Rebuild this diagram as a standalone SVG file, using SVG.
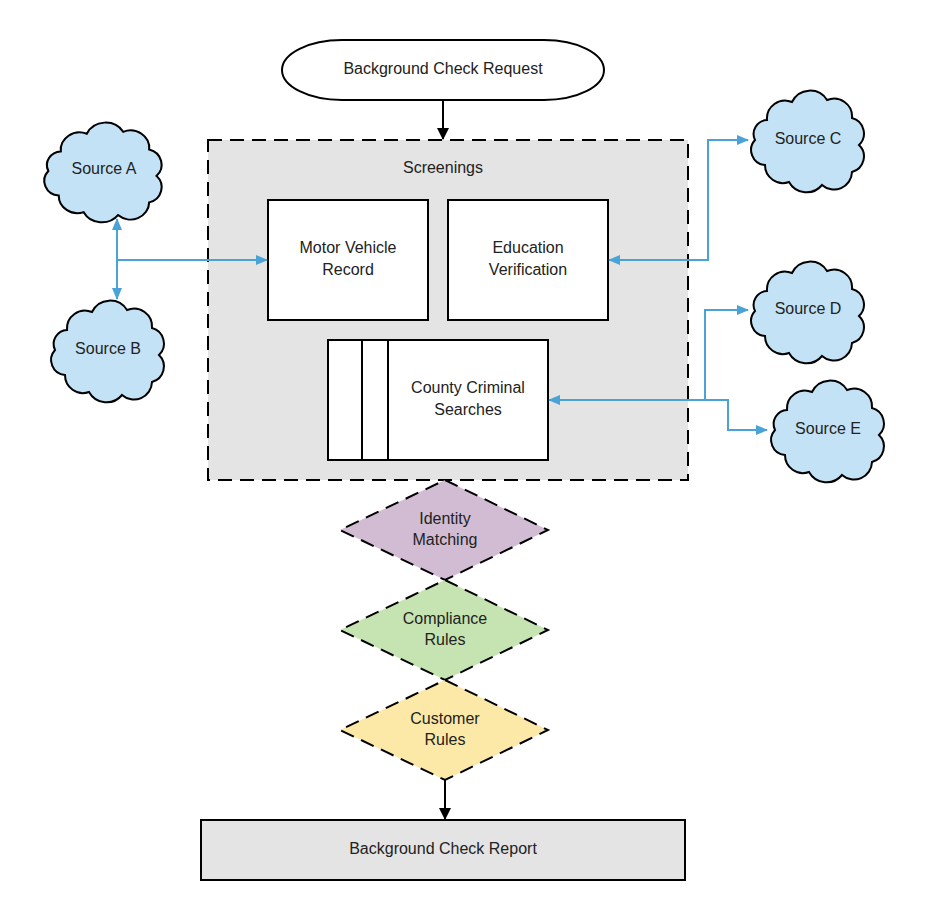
<svg xmlns="http://www.w3.org/2000/svg" xmlns:xlink="http://www.w3.org/1999/xlink" width="934" height="920" viewBox="0 0 934 920">
<style>
text{font-family:"Liberation Sans",Arial,sans-serif;font-size:16px;fill:#222;text-anchor:middle;dominant-baseline:central}
.box{fill:#fff;stroke:#000;stroke-width:2}
.cloud{fill:#c3e2f5;stroke:#000;stroke-width:2}
.dia{stroke:#000;stroke-width:2;stroke-dasharray:14 8}
.blue{fill:none;stroke:#4aa3d6;stroke-width:2}
.blk{fill:none;stroke:#000;stroke-width:2}
</style>
<defs>
<path id="cl" d="M20,30 A18,18 0 0 1 45,12 A20,20 0 0 1 80,10 A18,18 0 0 1 105,28 A16,16 0 0 1 112,55 A16,16 0 0 1 105,82 A18,18 0 0 1 75,95 A20,20 0 0 1 42,92 A18,18 0 0 1 18,75 A15,15 0 0 1 8,50 A14,14 0 0 1 20,30 Z"/>
<marker id="ab" markerWidth="12" markerHeight="10" refX="11" refY="5" orient="auto-start-reverse" markerUnits="userSpaceOnUse"><path d="M0,0 L12,5 L0,10 Z" fill="#4aa3d6"/></marker>
<marker id="ak" markerWidth="12" markerHeight="12" refX="11" refY="6" orient="auto" markerUnits="userSpaceOnUse"><path d="M0,0 L12,6 L0,12 Z" fill="#000"/></marker>
</defs>
<g id="screenings"><rect x="208" y="140" width="480" height="340" fill="#e4e4e4" stroke="#000" stroke-width="2" stroke-dasharray="14 8"/><text x="443" y="167">Screenings</text></g>
<g id="request"><rect x="282" y="40" width="322" height="60" rx="60" ry="30" class="box"/><text x="443" y="68">Background Check Request</text></g>
<g id="mvr"><rect x="268" y="200" width="160" height="120" class="box"/><text x="348" y="247">Motor Vehicle</text><text x="348" y="269">Record</text></g>
<g id="edu"><rect x="448" y="200" width="160" height="120" class="box"/><text x="528" y="247">Education</text><text x="528" y="269">Verification</text></g>
<g id="county"><rect x="328" y="340" width="220" height="120" class="box"/><line x1="362" y1="340" x2="362" y2="460" class="blk"/><line x1="388" y1="340" x2="388" y2="460" class="blk"/><text x="468" y="387">County Criminal</text><text x="468" y="409">Searches</text></g>
<g id="srcA"><use xlink:href="#cl" class="cloud" transform="translate(40,122) scale(1.04,0.98)"/><text x="104" y="168">Source A</text></g>
<g id="srcB"><use xlink:href="#cl" class="cloud" transform="translate(47,300) scale(1.0,1.0)"/><text x="108" y="348">Source B</text></g>
<g id="srcC"><use xlink:href="#cl" class="cloud" transform="translate(747,90) scale(1.0,1.0)"/><text x="808" y="138">Source C</text></g>
<g id="srcD"><use xlink:href="#cl" class="cloud" transform="translate(747,261) scale(1.0,1.0)"/><text x="808" y="308">Source D</text></g>
<g id="srcE"><use xlink:href="#cl" class="cloud" transform="translate(767,380) scale(1.0,1.0)"/><text x="828" y="428">Source E</text></g>
<g id="identity"><polygon points="445,480 548,530 445,580 340,530" fill="#d1bcd3" class="dia"/><text x="445" y="518">Identity</text><text x="445" y="539">Matching</text></g>
<g id="compliance"><polygon points="445,580 548,630 445,680 340,630" fill="#c6e4b1" class="dia"/><text x="445" y="618">Compliance</text><text x="445" y="639">Rules</text></g>
<g id="customer"><polygon points="445,680 548,730 445,780 340,730" fill="#fce9a7" class="dia"/><text x="445" y="718">Customer</text><text x="445" y="739">Rules</text></g>
<g id="report"><rect x="201" y="820" width="484" height="60" fill="#e4e4e4" stroke="#000" stroke-width="2"/><text x="443" y="848">Background Check Report</text></g>
<g id="connectors">
<line x1="443" y1="100" x2="443" y2="139" class="blk" marker-end="url(#ak)"/>
<line x1="445" y1="780" x2="445" y2="819" class="blk" marker-end="url(#ak)"/>
<line x1="117" y1="219" x2="117" y2="299" class="blue" marker-start="url(#ab)" marker-end="url(#ab)"/>
<polyline points="117,260 267,260" class="blue" marker-end="url(#ab)"/>
<polyline points="748,140 708,140 708,260 609,260" class="blue" marker-start="url(#ab)" marker-end="url(#ab)"/>
<polyline points="748,310 705,310 705,400 549,400" class="blue" marker-start="url(#ab)" marker-end="url(#ab)"/>
<polyline points="705,400 728,400 728,430 767,430" class="blue" marker-end="url(#ab)"/>
</g>
</svg>
